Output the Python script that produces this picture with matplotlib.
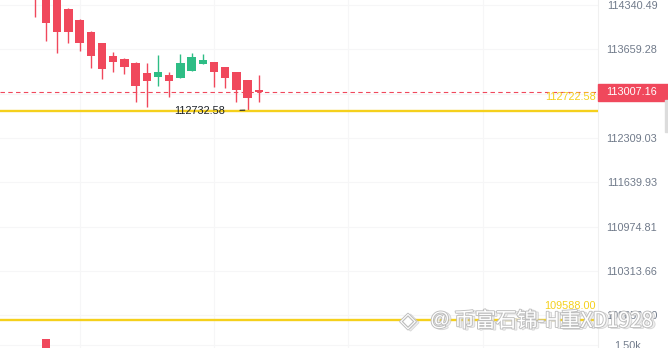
import matplotlib
matplotlib.use('Agg')
import matplotlib.pyplot as plt
from matplotlib.patches import Rectangle
import matplotlib.patheffects as pe
from matplotlib.ticker import NullLocator

# ---------------- data ----------------
opens  = [114700, 114600, 114480, 114274, 114110, 113930, 113752, 113557, 113516, 113455,
          113297, 113232, 113267, 113216, 113328, 113435, 113465, 113384, 113308, 113186, 113045]
highs  = [114800, 114650, 114520, 114290, 114120, 113940, 113760, 113614, 113520, 113460,
          113455, 113573, 113317, 113588, 113608, 113583, 113470, 113390, 113310, 113190, 113267]
lows   = [114156, 113792, 113608, 113752, 113638, 113369, 113201, 113317, 113282, 112851,
          112784, 113100, 112936, 113216, 113328, 113435, 113088, 113064, 112851, 112732.58, 112860]
closes = [114450, 114068, 113930, 113930, 113752, 113557, 113354, 113461, 113394, 113104,
          113175, 113308, 113175, 113446, 113547, 113496, 113317, 113216, 113038, 112921, 113007.16]

volume_idx = [1]
volume_vals = [1655]

price_ticks = [114340.49, 113659.28, 112982.10, 112309.03, 111639.93, 110974.81, 110313.66, 109656.50]
price_tick_labels = ["114340.49", "113659.28", "112982.10", "112309.03", "111639.93",
                     "110974.81", "110313.66", "109656.50"]
volume_ticks = [1500]
volume_tick_labels = ["1.50k"]

current_price = 113007.16
current_label = "113007.16"
level_prices = [112722.58, 109588.00]
level_labels = ["112722.58", "109588.00"]
low_label = "112732.58"
low_index = 19
time_grid = [4, 16, 28, 40]
watermark = "币富石锦-H重XD1928"

# ---------------- style ----------------
W, H = 668, 348
AXW = 598
RED = '#F0485C'
GREEN = '#2EBD85'
YEL = '#F5D01C'
GRID = '#f6f6f7'
TXT = '#707A8A'
FS = 7.8

plt.rcParams['font.family'] = ['Liberation Sans', 'DejaVu Sans']

fig = plt.figure(figsize=(W / 100, H / 100), dpi=100)
fig.patch.set_facecolor('white')

ax = fig.add_axes([0, 0, AXW / W, 1])
ax.set_yscale('log')
ax.set_ylim(109174.9, 114417.6)
ax.set_xlim(-3.107, 50.286)
for s in ax.spines.values():
    s.set_visible(False)
ax.spines['right'].set_visible(True)
ax.spines['right'].set_color('#f0f0f0')
ax.spines['right'].set_linewidth(0.8)

ax.yaxis.tick_right()
ax.set_yticks(price_ticks, price_tick_labels)
ax.yaxis.set_minor_locator(NullLocator())
ax.tick_params(axis='y', length=0, pad=24.5, labelsize=FS, labelcolor=TXT)
for t in ax.yaxis.get_major_ticks():
    t.label2.set_horizontalalignment('center')
ax.set_xticks(time_grid)
ax.tick_params(axis='x', length=0, labelbottom=False)
ax.grid(True, color=GRID, lw=0.8)
ax.set_axisbelow(True)

# candles
xs = list(range(len(opens)))
colors = [GREEN if c >= o else RED for o, c in zip(opens, closes)]
ax.vlines(xs, lows, highs, colors=colors, lw=1.0, zorder=3)
ax.bar(xs, [abs(c - o) for o, c in zip(opens, closes)],
       bottom=[min(o, c) for o, c in zip(opens, closes)],
       width=0.76, color=colors, zorder=4)

# current price dashed line
ax.axhline(current_price, color=RED, lw=0.8, ls=(0, (4, 3)), zorder=2)

# yellow levels
for lv, lb in zip(level_prices, level_labels):
    ax.axhline(lv, color=YEL, lw=1.7, zorder=5)
    ax.annotate(lb, xy=(1, lv), xycoords=('axes fraction', 'data'),
                xytext=(-1.5, 10), textcoords='offset points',
                ha='right', va='center', fontsize=FS, color=YEL, zorder=6)

# low annotation
ax.annotate(low_label, xy=(low_index, lows[low_index]), xytext=(-16.5, -1),
            textcoords='offset points', ha='right', va='center',
            fontsize=FS, color='#1e2329', zorder=7,
            arrowprops=dict(arrowstyle='-', color='#1e2329', lw=0.8,
                            shrinkA=9, shrinkB=2))

# volume pane
axv = fig.add_axes([0, -52 / H, AXW / W, 70 / H], sharex=ax)
axv.patch.set_alpha(0)
for s in axv.spines.values():
    s.set_visible(False)
axv.set_ylim(0, 1909)
axv.bar(volume_idx, volume_vals, width=0.76, color=RED, zorder=3)
axv.yaxis.tick_right()
axv.set_yticks(volume_ticks, volume_tick_labels)
axv.tick_params(axis='y', length=0, pad=21, labelsize=FS, labelcolor=TXT)
for t in axv.yaxis.get_major_ticks():
    t.label2.set_horizontalalignment('center')
axv.tick_params(axis='x', length=0, labelbottom=False)
axv.grid(True, axis='y', color=GRID, lw=0.8)

# current price box on the price scale
fig.canvas.draw()
ypix = ax.transData.transform((0, current_price))[1]
fig.add_artist(Rectangle((AXW / W, (ypix - 8.5) / H), 70 / W, 17 / H,
                         transform=fig.transFigure, color=RED, zorder=10))
fig.text(632 / W, ypix / H, current_label, color='white', ha='center', va='center',
         fontsize=FS, zorder=11)

# scroll handle
fig.add_artist(Rectangle((665 / W, (H - 132) / H), 3 / W, 32 / H,
                         transform=fig.transFigure, color='#dcdcdc', zorder=10))

# watermark
wm_fx = [pe.withStroke(linewidth=1.3, foreground='#bdbdbd')]
for dx, dy, a in [(2.5, -1, 0.6), (0, 0, 1.0)]:
    fig.text((400 + dx) / W, (H - 321 + dy) / H, '◈', fontsize=15, color='white',
             va='center', ha='left', alpha=a, path_effects=wm_fx, zorder=12,
             family=['DejaVu Sans'])
    fig.text((430 + dx) / W, (H - 321 + dy) / H, '@', fontsize=14, color='white',
             va='center', ha='left', alpha=a, path_effects=wm_fx, zorder=12)
    fig.text((454 + dx) / W, (H - 321 + dy) / H, watermark, fontsize=15, color='white',
             va='center', ha='left', alpha=a, path_effects=wm_fx, zorder=12,
             family=['Noto Sans CJK SC', 'DejaVu Sans'])

fig.savefig('out.png', dpi=100)
